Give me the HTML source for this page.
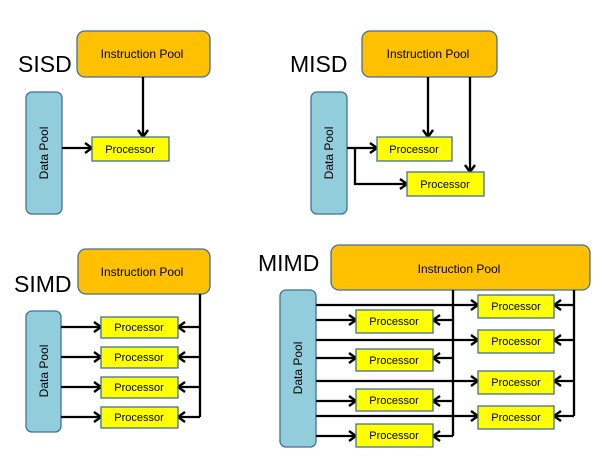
<!DOCTYPE html>
<html><head><meta charset="utf-8"><style>html,body{margin:0;padding:0;background:#fff}svg{display:block}</style></head>
<body>
<svg width="609" height="456" viewBox="0 0 609 456" xmlns="http://www.w3.org/2000/svg" font-family="Liberation Sans, sans-serif">
<defs>
<marker id="m" viewBox="0 0 12 12" refX="10" refY="6" markerWidth="12" markerHeight="12" orient="auto" markerUnits="userSpaceOnUse">
<polyline points="3,1 10,6 3,11" fill="none" stroke="#000" stroke-width="2.4"/>
</marker>
</defs>
<g font-size="23" fill="#000">
<text x="18" y="72">SISD</text>
<text x="290" y="72">MISD</text>
<text x="14" y="292">SIMD</text>
<text x="258" y="271">MIMD</text>
</g>
<g fill="#ffc000" stroke="#41719c" stroke-width="1.3">
<rect x="77" y="31" width="133" height="46" rx="8"/>
<rect x="362" y="31" width="135" height="46" rx="8"/>
<rect x="78" y="249" width="132" height="45" rx="8"/>
<rect x="331" y="245" width="259" height="45" rx="8"/>
</g>
<g font-size="12" text-anchor="middle" fill="#000">
<text x="142" y="58">Instruction Pool</text>
<text x="428" y="58">Instruction Pool</text>
<text x="142" y="276">Instruction Pool</text>
<text x="459" y="273">Instruction Pool</text>
</g>
<g fill="#92cddc" stroke="#41719c" stroke-width="1.3">
<rect x="26" y="92" width="36" height="122" rx="6"/>
<rect x="311" y="92" width="36" height="122" rx="6"/>
<rect x="26" y="311" width="35" height="121" rx="6"/>
<rect x="280" y="290" width="36" height="157" rx="6"/>
</g>
<g font-size="12" text-anchor="middle" fill="#000">
<text transform="translate(48,153) rotate(-90)">Data Pool</text>
<text transform="translate(333,153) rotate(-90)">Data Pool</text>
<text transform="translate(48,371) rotate(-90)">Data Pool</text>
<text transform="translate(302,368) rotate(-90)">Data Pool</text>
</g>
<g stroke="#000" stroke-width="2.3" fill="none" marker-end="url(#m)">
<path d="M143 77V137"/><path d="M62 148H92"/>
<path d="M428 77V137"/><path d="M470 77V172"/>
<path d="M347 148H377"/><path d="M355 148V184H407"/>
<path d="M61 327H101"/><path d="M61 357H101"/><path d="M61 387H101"/><path d="M61 417H101"/>
<path d="M200 327H178"/><path d="M200 357H178"/><path d="M200 387H178"/><path d="M200 417H178"/>
<path d="M316 305H478"/><path d="M316 340H478"/><path d="M316 381H478"/><path d="M316 416H478"/>
<path d="M316 320H356"/><path d="M316 358H356"/><path d="M316 401H356"/><path d="M316 436H356"/>
<path d="M453 320H433"/><path d="M453 358H433"/><path d="M453 401H433"/><path d="M453 436H433"/>
<path d="M574 305H554"/><path d="M574 340H554"/><path d="M574 381H554"/><path d="M574 416H554"/>
</g>
<g stroke="#000" stroke-width="2.3" fill="none">
<path d="M200 294V417"/><path d="M453 290V436"/><path d="M574 290V416"/>
</g>
<g fill="#ffff00" stroke="#41719c" stroke-width="1.3">
<rect x="92" y="137" width="77" height="24"/>
<rect x="377" y="137" width="75" height="24"/>
<rect x="407" y="172" width="77" height="24"/>
<rect x="101" y="317" width="77" height="21"/>
<rect x="101" y="347" width="77" height="21"/>
<rect x="101" y="377" width="77" height="21"/>
<rect x="101" y="407" width="77" height="21"/>
<rect x="356" y="310" width="77" height="23"/>
<rect x="356" y="349" width="77" height="22"/>
<rect x="356" y="389" width="77" height="22"/>
<rect x="356" y="424" width="77" height="23"/>
<rect x="478" y="295" width="76" height="23"/>
<rect x="478" y="330" width="76" height="23"/>
<rect x="478" y="371" width="76" height="23"/>
<rect x="478" y="406" width="76" height="23"/>
</g>
<g font-size="11" text-anchor="middle" fill="#000">
<text x="130" y="153">Processor</text>
<text x="414" y="153">Processor</text>
<text x="445" y="188">Processor</text>
<text x="139" y="331">Processor</text>
<text x="139" y="361">Processor</text>
<text x="139" y="391">Processor</text>
<text x="139" y="421">Processor</text>
<text x="394" y="325">Processor</text>
<text x="394" y="364">Processor</text>
<text x="394" y="404">Processor</text>
<text x="394" y="439">Processor</text>
<text x="516" y="310">Processor</text>
<text x="516" y="345">Processor</text>
<text x="516" y="386">Processor</text>
<text x="516" y="421">Processor</text>
</g>
</svg>
</body></html>
